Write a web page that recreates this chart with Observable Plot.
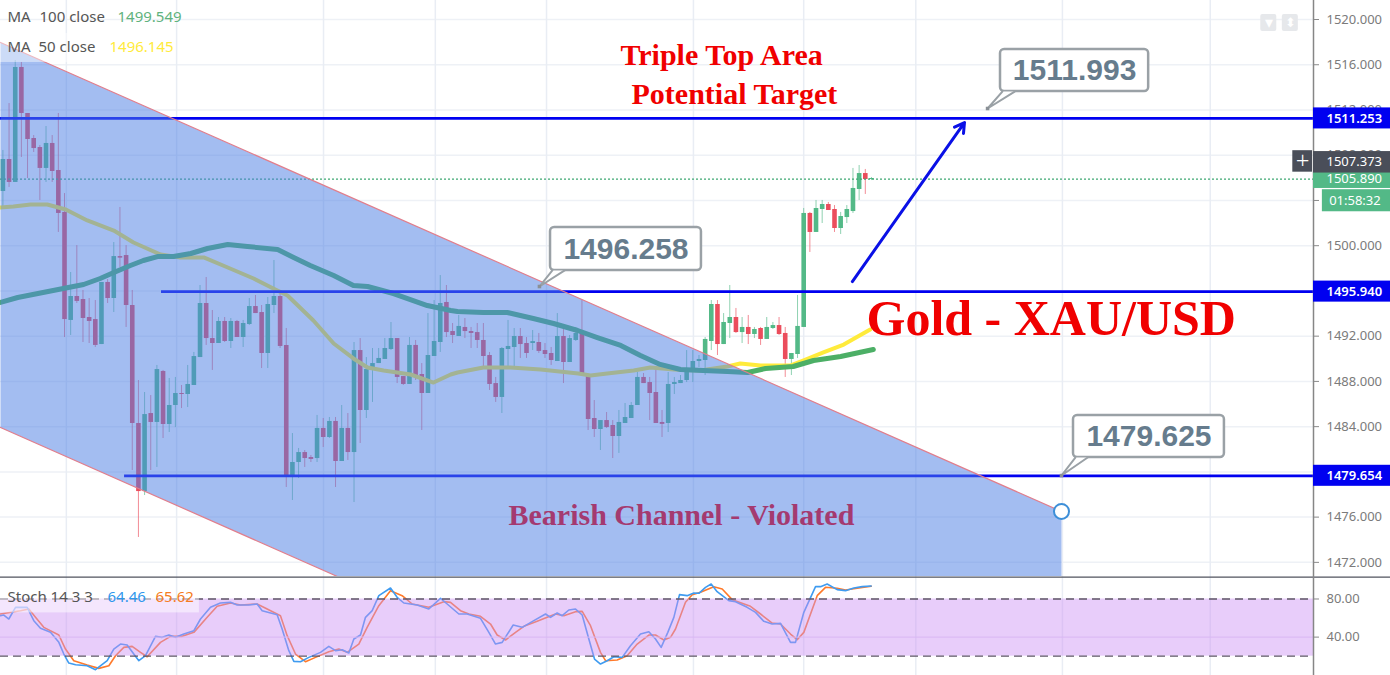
<!DOCTYPE html>
<html>
<head>
<meta charset="utf-8">
<script src="https://cdn.jsdelivr.net/npm/d3@7"></script>
<script src="https://cdn.jsdelivr.net/npm/@observablehq/plot@0.6"></script>
<style>
html,body{margin:0;padding:0;background:#fff;overflow:hidden}
svg{display:block}
</style>
</head>
<body>
<div id="chart"></div>
<script>
// ---------- candles (bar index = array position) ----------
const openPrice=[1504.79,1507.62,1505.59,1515.76,1511.69,1509.48,1508.68,1506.83,1509.04,1506.65,1502.94,1493.39,1495.51,1495.24,1493.65,1493.47,1491.26,1496.75,1495.33,1499.04,
1499.13,1494.71,1484.28,1478.26,1485.16,1484.37,1488.88,1484.19,1485.87,1486.93,1486.84,1487.64,1490.11,1494.89,1491.79,1491.35,1493.30,1491.53,1493.30,1491.88,
1493.03,1494.62,1494.09,1490.47,1494.71,1495.51,1491.18,1479.50,1480.83,1481.71,1481.27,1481.18,1483.84,1483.04,1484.46,1480.92,1483.84,1481.71,1490.73,1485.43,
1488.97,1489.58,1489.94,1490.82,1491.79,1488.43,1487.73,1491.18,1488.61,1486.93,1490.20,1491.44,1494.98,1492.41,1491.97,1492.77,1492.41,1492.32,1491.62,1490.29,
1487.81,1486.58,1490.82,1491.00,1491.97,1491.35,1491.35,1491.44,1490.73,1490.47,1489.76,1491.97,1489.67,1491.62,1492.24,1488.61,1484.72,1483.75,1484.54,1484.10,
1483.13,1484.28,1484.72,1485.87,1488.35,1487.90,1487.02,1484.37,1484.28,1487.73,1487.81,1488.08,1489.14,1489.76,1489.85,1491.53,1494.80,1491.26,1493.12,1493.65,
1492.32,1492.77,1492.15,1492.68,1491.71,1492.68,1492.94,1492.24,1489.94,1490.38,1492.77,1502.85,1501.17,1503.20,1503.64,1503.20,1501.52,1502.49,1503.02,1504.97,1506.38,1505.85];
const closePrice=[1507.62,1505.59,1515.76,1511.69,1509.39,1508.59,1506.83,1509.04,1506.56,1502.85,1493.47,1495.51,1495.07,1493.56,1493.30,1491.18,1496.75,1495.33,1499.04,1498.90,
1494.71,1484.28,1478.26,1485.07,1484.37,1489.05,1484.19,1485.87,1486.93,1486.84,1487.73,1490.20,1494.89,1491.79,1491.35,1493.30,1491.53,1493.30,1491.88,1493.12,
1494.62,1494.00,1490.47,1494.80,1495.51,1491.09,1479.50,1480.83,1481.71,1481.18,1481.10,1483.84,1483.04,1484.46,1480.92,1483.84,1481.71,1490.73,1485.43,1489.05,
1489.58,1490.03,1490.91,1491.79,1488.35,1487.73,1491.18,1488.52,1486.93,1490.29,1491.53,1494.89,1492.32,1492.06,1492.86,1492.41,1492.24,1491.62,1490.20,1487.73,
1486.58,1490.91,1491.09,1491.97,1491.26,1490.47,1491.52,1490.65,1490.38,1489.85,1491.97,1489.67,1491.79,1492.24,1488.61,1484.63,1483.75,1484.54,1483.92,1483.13,
1484.37,1484.81,1485.87,1488.35,1487.81,1486.93,1484.28,1484.20,1487.73,1487.90,1488.08,1489.14,1489.76,1489.94,1491.71,1494.80,1491.26,1493.21,1493.65,1492.32,
1492.77,1492.15,1492.59,1491.71,1492.77,1492.94,1492.15,1489.94,1490.47,1492.86,1502.85,1501.17,1503.29,1503.64,1503.11,1501.52,1502.58,1503.20,1505.06,1506.38,1505.85,1505.94];
const highPrice=[1508.42,1512.57,1516.37,1516.20,1511.69,1509.74,1508.86,1510.54,1509.74,1511.69,1504.61,1497.63,1500.01,1496.04,1495.33,1495.15,1496.75,1497.01,1500.28,1503.38,
1500.01,1496.04,1488.08,1487.02,1486.75,1489.41,1488.97,1488.26,1488.35,1487.64,1489.41,1490.56,1496.48,1497.19,1494.27,1493.65,1493.65,1493.56,1493.39,1493.39,
1495.33,1495.60,1494.71,1495.42,1498.69,1496.04,1492.68,1483.39,1482.07,1481.89,1481.45,1484.99,1484.72,1484.81,1484.81,1485.87,1485.16,1491.44,1491.79,1490.11,
1490.91,1490.91,1491.79,1493.21,1491.79,1488.43,1491.88,1491.62,1489.58,1494.00,1495.15,1497.36,1496.48,1493.12,1493.83,1493.56,1492.77,1493.12,1493.12,1490.56,
1488.35,1491.00,1493.39,1492.68,1492.68,1491.88,1492.50,1492.24,1491.35,1491.00,1494.00,1492.94,1492.06,1492.77,1495.15,1488.61,1486.31,1484.54,1485.25,1484.54,
1485.43,1486.05,1486.14,1488.79,1488.70,1488.35,1489.14,1485.43,1488.79,1488.35,1488.52,1490.73,1490.73,1490.29,1491.88,1495.15,1495.15,1494.00,1496.48,1494.45,
1493.65,1493.83,1492.77,1492.77,1493.65,1493.21,1493.65,1492.77,1490.47,1495.60,1503.29,1502.94,1504.00,1504.00,1503.82,1503.55,1502.94,1503.55,1506.83,1507.09,1506.74,1506.03];
const lowPrice=[1503.38,1505.15,1505.59,1507.80,1505.94,1508.24,1504.00,1505.59,1505.59,1501.17,1491.88,1492.06,1494.89,1491.44,1491.35,1491.00,1491.26,1494.89,1494.09,1498.07,
1492.77,1480.12,1474.20,1477.91,1480.12,1480.39,1482.95,1483.48,1483.92,1485.60,1485.69,1487.64,1490.11,1491.18,1488.97,1491.35,1491.44,1490.91,1491.88,1491.00,
1492.94,1494.00,1489.14,1489.14,1494.00,1490.91,1478.62,1477.47,1479.41,1480.39,1480.83,1480.83,1482.16,1482.95,1478.62,1480.92,1481.01,1477.29,1482.51,1484.72,
1486.14,1489.58,1489.94,1490.73,1487.81,1487.64,1487.73,1488.08,1483.66,1486.93,1490.20,1490.56,1491.88,1491.35,1491.97,1491.79,1490.91,1490.91,1489.23,1487.20,
1486.14,1485.16,1489.14,1489.23,1490.03,1490.03,1490.73,1490.47,1490.03,1489.41,1489.76,1487.81,1489.67,1491.53,1488.52,1483.66,1483.04,1481.89,1483.84,1481.18,
1481.63,1484.28,1484.72,1485.87,1487.81,1484.54,1484.28,1483.04,1483.48,1486.84,1487.81,1487.90,1487.90,1489.23,1488.52,1490.73,1490.29,1491.26,1491.79,1492.24,
1491.35,1491.26,1491.79,1491.18,1491.71,1492.59,1492.06,1488.35,1488.52,1490.03,1492.77,1499.40,1501.17,1501.96,1503.11,1501.17,1500.99,1501.96,1502.85,1504.00,1504.53,1505.76];

// ---------- moving averages ----------
const ma100X=[-0.4,2.4,9.8,13.1,15.8,18,20.7,22.8,25.1,27.7,30.5,33.2,36.5,39.7,44.6,47.2,49.9,53.7,56.9,59.2,63.4,68.9,72.7,73.8,78,81.9,86.1,89.4,93.3,96.5,100.3,103.5,106.7,110,113.7,117.6,120.9,123.8,128.3,131.6,136,141.3];
const ma100Y=[1494.98,1495.42,1496.22,1496.57,1497.10,1497.63,1498.25,1498.69,1499.04,1499.04,1499.31,1499.75,1500.10,1499.93,1499.66,1498.96,1498.25,1497.36,1496.48,1496.39,1495.77,1494.71,1494.27,1494.18,1494.09,1494.09,1493.56,1493.12,1492.50,1491.88,1491.18,1490.29,1489.50,1489.05,1488.97,1488.88,1488.79,1489.14,1489.32,1489.85,1490.20,1490.82];
const ma50X=[-0.4,1.7,4.5,7.2,10.2,13.7,18,21.2,25.6,28.8,32.6,36.5,40.7,43.9,46.2,50.4,53.7,56.9,59.2,61.8,66.2,69.9,72.7,73.8,78,82.4,87.3,93.4,95.4,98.1,102.4,105.1,108.9,113.2,117.6,119.7,123,127.9,130,133.2,136.5,140.8];
const ma50Y=[1503.38,1503.46,1503.64,1503.64,1503.20,1502.23,1501.34,1500.28,1499.22,1498.96,1498.96,1498.07,1497.10,1496.22,1495.60,1493.39,1491.35,1490.03,1489.23,1488.97,1488.61,1487.90,1488.61,1488.79,1489.23,1489.23,1489.05,1488.70,1488.52,1488.70,1488.97,1489.23,1489.05,1488.97,1489.32,1489.58,1489.41,1489.41,1489.85,1490.56,1491.26,1492.59];

// ---------- stochastic ----------
const kX=[-0.4,0.15,0.96,2.05,3.94,5.02,6.1,7.73,9.08,9.89,10.7,11.8,13.68,15.03,16.93,18,19.09,20.17,21.25,22.07,23.15,24.77,25.85,26.94,28.02,29.37,31,32.08,33.7,35.3,36.95,38.03,39.92,41.27,42.09,44.52,45.33,46.42,47.23,48.31,49.66,51.56,52.91,53.99,55.08,56.16,56.97,58.05,58.86,59.95,61.03,62.92,64,65.09,67.25,69.14,71.04,72.12,74.02,75.37,77.53,78.89,79.97,81.05,82.84,84.3,86.19,88.09,88.9,89.98,90.79,91.87,92.96,94.04,95.12,96.04,97.01,98.1,99.18,100.53,101.88,103.51,104.86,105.94,106.86,107.94,108.92,109.84,111.08,112.17,112.98,114.06,114.98,115.95,117.85,118.93,120.82,122.18,123.53,124.88,126.24,127.86,128.67,130.02,131.92,132.73,133.81,135.43,136.79,138.14,139.49,140.95];
const kV=[62.5,63.2,59,71.25,71.25,57.25,49.2,45,34.5,22.25,12.8,11.05,10,5.8,15.25,27.5,32.75,31.7,22.25,15.25,20.5,40.8,39.75,42.2,39.75,43.25,46.75,59,71.25,75.8,76.5,73.7,73.7,74.75,67.75,63.55,48.5,25.75,14.55,14.2,18.75,24,30.3,25.75,26.8,23.3,38,42.2,60.75,67.75,83.5,91.55,81.75,75.8,73.7,69.5,80.7,74.75,64.25,64.25,59.7,45,32.75,34.5,52.7,50.25,57.25,64.25,60.75,65.3,62.5,68.45,69.5,63.2,38,17,11.75,15.25,19.45,18.75,31,43.25,45.7,38,29.25,45,60.75,84.55,83.5,86.3,85.95,92.25,95.75,87.7,78.25,77.2,71.25,66,56.55,53.75,54.45,34.5,34.5,66,92.95,92.95,95.75,89.8,88.75,91.55,92.95,93.65];
const dX=[-0.4,2.86,4.21,5.29,6.64,9.08,10.16,11.51,13.68,15.57,17.2,18.28,19.63,20.98,22.34,23.42,25.58,27.21,29.1,31,33.16,34.78,36.95,38.57,41.27,42.9,45.06,46.15,47.5,49.12,50.75,52.91,54.53,55.89,57.78,59.13,61.03,62.92,64.81,66.44,69.14,71.58,72.66,74.29,75.64,77.53,79.16,80.24,81.59,83.22,84.57,86.73,88.36,89.71,91.06,92.96,94.04,95.39,97.01,97.83,99.72,101.34,102.97,104.86,105.94,107.3,108.38,109.19,110.81,111.9,113.25,115.41,116.77,118.39,121.36,122.99,124.88,126.24,127.86,128.94,130.02,132.19,133.54,135.43,136.79,138.68,140.95];
const dV=[64.25,67.75,69.5,60.75,50.25,42.2,27.5,15.25,10.7,7.2,10,20.5,29.25,30.3,24,19.45,34.5,40.8,40.8,45,60.75,72.3,75.8,73.7,74.75,69.5,62.5,41.5,22.25,14.2,18.75,24.7,27.5,24,32.75,50.25,73,88.75,83.5,74.75,71.25,77.2,76.5,67.75,64.25,61.8,53.75,42.2,36.95,45,51.3,56.55,60.75,64.25,62.5,66.7,67.05,52,24,15.25,15.95,20.5,32.75,42.2,42.2,36.95,39.75,48.5,76.5,84.55,87,92.95,90.5,79.3,72.3,64.25,54.8,53.75,43.25,37.3,45,83.5,92.25,91.2,89.45,91.2,93.3];

// ---------- scales, grid, levels, drawings ----------
const xMin=-0.39, xAxis=212.76, xEnd=225.26;
const priceMin=1470.75, priceMax=1521.68;
const priceTicks=[1520,1516,1512,1508,1504,1500,1496,1492,1488,1484,1480,1476,1472];
const coveredTicks=[1504,1496,1480];
const timeGrid=[10.3,28.2,52.05,70.2,88.25,112.1,130,148.2,172,196];
const lastPrice=1505.89;
const levelValues=[1511.253,1495.94,1479.654];
const levelStarts=[xMin,25.75,19.75];
const channelX=[-0.39,171.85,171.85,54.3,-0.39];
const channelY=[1517.97,1476.5,1470.75,1470.75,1483.93];
const upperEdgeX=[-0.39,171.85], upperEdgeY=[1517.97,1476.5];
const lowerEdgeX=[-0.39,54.3], lowerEdgeY=[1483.93,1470.75];
const calloutText=["1511.993","1496.258","1479.625"];
const calloutLeft=[161.95,88.9,173.8], calloutRight=[186,113.4,198.3];
const calloutTop=[1517.35,1501.61,1484.99], calloutBottom=[1513.63,1497.81,1481.27];
const calloutTipX=[159.85,87.1,171.85], calloutTipY=[1512.13,1496.39,1479.68];

const font="'Noto Sans'", serif="'Liberation Serif'", sans="'Liberation Sans'";
const upColor="#53b987", downColor="#eb4d5c", levelBlue="#0000f0";

const bars=openPrice.map((o,i)=>({i,o,c:closePrice[i],h:highPrice[i],l:lowPrice[i]}));
const upBars=bars.filter(b=>b.c>=b.o), downBars=bars.filter(b=>b.c<b.o);
const zip=(xs,ys)=>xs.map((x,i)=>({x,y:ys[i]}));
const levels=levelValues.map((v,i)=>({v,s:levelStarts[i]}));
const callouts=calloutText.map((t,i)=>({t,l:calloutLeft[i],r:calloutRight[i],tp:calloutTop[i],b:calloutBottom[i],tx:calloutTipX[i],ty:calloutTipY[i]}));
const tails=callouts.flatMap((c,k)=>[
  {k,x:c.l+0.3,y:c.b},{k,x:c.tx,y:c.ty},{k,x:c.l+2.3,y:c.b}
]);
const label=(txt,size,opts)=>Plot.text([txt],{frameAnchor:"top-left",lineAnchor:"middle",textAnchor:"start",fontSize:size,fontFamily:font,...opts});

const priceChart=Plot.plot({
  width:1390,height:576,marginTop:0,marginBottom:0,marginLeft:0,marginRight:77,
  style:{background:"#fff",overflow:"visible"},
  x:{domain:[xMin,xAxis],axis:null},
  y:{domain:[priceMin,priceMax],axis:null},
  marks:[
    Plot.ruleY(priceTicks,{stroke:"#eef1f6",strokeWidth:1.5,x1:xMin,x2:xAxis}),
    Plot.ruleX(timeGrid,{stroke:"#e9edf4",strokeWidth:1.5}),
    Plot.ruleX(upBars,{x:"i",y1:"l",y2:"h",stroke:upColor,strokeWidth:1,strokeOpacity:0.65}),
    Plot.ruleX(downBars,{x:"i",y1:"l",y2:"h",stroke:downColor,strokeWidth:1,strokeOpacity:0.65}),
    Plot.ruleX(upBars,{x:"i",y1:"o",y2:"c",stroke:upColor,strokeWidth:4.6}),
    Plot.ruleX(downBars,{x:"i",y1:"o",y2:"c",stroke:downColor,strokeWidth:4.6}),
    Plot.line(zip(ma50X,ma50Y),{x:"x",y:"y",stroke:"#ffeb3b",strokeWidth:4,curve:"linear"}),
    Plot.line(zip(ma100X,ma100Y),{x:"x",y:"y",stroke:"#4caf66",strokeWidth:5,curve:"linear"}),
    Plot.ruleY([lastPrice],{x1:xMin,x2:xAxis,stroke:"#3fa873",strokeWidth:1.2,strokeDasharray:"2,2"}),
    Plot.ruleY(levels,{y:"v",x1:"s",x2:xAxis,stroke:levelBlue,strokeWidth:2.8}),
    // channel body laid over the candles
    Plot.line(zip(channelX,channelY),{x:"x",y:"y",fill:"#4f80e5",fillOpacity:0.52,stroke:"none",clip:true}),
    Plot.line(zip(upperEdgeX,upperEdgeY),{x:"x",y:"y",stroke:"#e17e8c",strokeWidth:1.2,clip:true}),
    Plot.line(zip(lowerEdgeX,lowerEdgeY),{x:"x",y:"y",stroke:"#e17e8c",strokeWidth:1.2,clip:true}),
    Plot.dot([0],{x:()=>171.85,y:()=>1476.5,r:7.5,fill:"#fff",stroke:"#3d8fd8",strokeWidth:2}),
    // legend veil
    Plot.rect([0],{x1:()=>xMin,x2:()=>28,y1:()=>1516.2,y2:()=>1518.76,fill:"#fff",fillOpacity:0.45}),
    // arrow
    Plot.arrow([0],{x1:()=>137.9,y1:()=>1496.83,x2:()=>156.1,y2:()=>1510.89,stroke:"#0a10e6",strokeWidth:3,headLength:5.5,bend:false}),
    // callouts
    Plot.rect(callouts,{x1:"l",x2:"r",y1:"b",y2:"tp",fill:"#fff",stroke:"#9aa1a6",strokeWidth:2.5,rx:4}),
    Plot.line(tails,{x:"x",y:"y",z:"k",fill:"#fff",stroke:"none"}),
    Plot.line(tails,{x:"x",y:"y",z:"k",stroke:"#9aa1a6",strokeWidth:2}),
    Plot.dot(callouts,{x:"tx",y:"ty",r:2,fill:"#8a9096",symbol:"square"}),
    Plot.text(callouts,{x:d=>(d.l+d.r)/2,y:d=>(d.tp+d.b)/2,text:"t",fill:"#667c8d",fontSize:30,fontWeight:"bold",fontFamily:sans}),
    // drawn text
    label("Triple Top Area",30,{dx:620,dy:55,fill:"#f00000",fontWeight:"bold",fontFamily:serif}),
    label("Potential Target",30,{dx:631,dy:94,fill:"#f00000",fontWeight:"bold",fontFamily:serif}),
    label("Gold - XAU/USD",50,{dx:866,dy:318,fill:"#f00000",fontWeight:"bold",fontFamily:serif}),
    label("Bearish Channel - Violated",30,{dx:508,dy:515,fill:"#a43a70",fontWeight:"bold",fontFamily:serif}),
    // legends
    label("MA",15,{dx:7,dy:17,fill:"#555"}),
    label("100 close",15,{dx:39,dy:17,fill:"#555"}),
    label("1499.549",15,{dx:117,dy:17,fill:"#5fb27d"}),
    label("MA",15,{dx:7,dy:47,fill:"#555"}),
    label("50 close",15,{dx:38,dy:47,fill:"#555"}),
    label("1496.145",15,{dx:109,dy:47,fill:"#ffeb3b"}),
    // window buttons
    Plot.rect([204.2,207.7],{x1:d=>d,x2:d=>d+2.6,y1:()=>1518.94,y2:()=>1520.44,fill:"#e6e8eb",rx:2}),
    label("▾",16,{dx:1268.5,dy:22,fill:"#fff",textAnchor:"middle"}),
    label("⬍",13,{dx:1289.5,dy:22,fill:"#fff",textAnchor:"middle"}),
    // price axis
    Plot.ruleX([xAxis],{stroke:"#868686",strokeWidth:1.5}),
    Plot.axisY({anchor:"right",ticks:priceTicks,tickFormat:d=>coveredTicks.includes(d)?"":d.toFixed(3),tickSize:5,tickPadding:8,label:null,fontSize:13,fontFamily:font,color:"#7b7b7b",stroke:"#8a8a8a"}),
    // price labels
    Plot.rect(levels,{x1:()=>xAxis,x2:()=>xEnd,y1:d=>d.v-0.93,y2:d=>d.v+0.93,fill:levelBlue}),
    Plot.text(levels,{x:()=>214.87,y:"v",text:d=>d.v.toFixed(3),textAnchor:"start",fill:"#fff",fontSize:13,fontWeight:"600",fontFamily:font}),
    Plot.rect([lastPrice],{x1:()=>xAxis,x2:()=>xEnd,y1:()=>1505.06,y2:()=>1506.6,fill:upColor}),
    Plot.text([lastPrice],{x:()=>214.87,y:()=>1505.89,text:d=>d.toFixed(3),textAnchor:"start",fill:"#fff",fontSize:13,fontFamily:font}),
    Plot.rect([0],{x1:()=>214.2,x2:()=>xEnd,y1:()=>1503.0,y2:()=>1504.95,fill:upColor}),
    Plot.text(["01:58:32"],{x:()=>215.3,y:()=>1504.0,textAnchor:"start",fill:"#fff",fontSize:13,fontFamily:font}),
    Plot.rect([0],{x1:()=>209.4,x2:()=>212.6,y1:()=>1506.5,y2:()=>1508.4,fill:"#4a4e59"}),
    Plot.rect([1507.373],{x1:()=>xAxis,x2:()=>xEnd,y1:d=>d-0.95,y2:d=>d+0.95,fill:"#4a4e59"}),
    Plot.text([1507.373],{x:()=>214.87,y:d=>d,text:d=>d.toFixed(3),textAnchor:"start",fill:"#fff",fontSize:13,fontFamily:font}),
    Plot.text(["+"],{x:()=>211,y:()=>1507.45,fill:"#fff",fontSize:24,fontFamily:font,fontWeight:"300"})
  ]
});

// ---------- stochastic pane ----------
const stochTicks=[80,40];
const bandLevels=[20,80];
const stochChart=Plot.plot({
  width:1390,height:99,marginTop:0,marginBottom:0,marginLeft:0,marginRight:77,
  style:{background:"#fff",overflow:"visible"},
  x:{domain:[xMin,xAxis],axis:null},
  y:{domain:[-0.27,103.6],axis:null},
  marks:[
    Plot.ruleX(timeGrid,{stroke:"#e9edf4",strokeWidth:1.5}),
    Plot.line(zip(dX,dV),{x:"x",y:"y",stroke:"#ff7a2b",strokeWidth:1.6,curve:"linear"}),
    Plot.line(zip(kX,kV),{x:"x",y:"y",stroke:"#3f9bf0",strokeWidth:1.6,curve:"linear"}),
    Plot.rect([0],{x1:()=>xMin,x2:()=>xAxis,y1:()=>bandLevels[0],y2:()=>bandLevels[1],fill:"#cc90f5",fillOpacity:0.45}),
    Plot.ruleY([40],{x1:xMin,x2:xAxis,stroke:"#d9b6f3",strokeWidth:1}),
    Plot.ruleY(bandLevels,{x1:xMin,x2:xAxis,stroke:"#5d5566",strokeWidth:1.3,strokeDasharray:"8,5"}),
    Plot.rect([0],{x1:()=>xMin,x2:()=>31.9,y1:()=>65.4,y2:()=>80.5,fill:"#fff",fillOpacity:0.5}),
    Plot.ruleY([103],{x1:xMin,x2:xEnd,stroke:"#50535e",strokeWidth:1.2}),
    label("Stoch 14 3 3",15,{dx:7,dy:21,fill:"#555"}),
    label("64.46",15,{dx:107,dy:21,fill:"#2e97ec"}),
    label("65.62",15,{dx:155,dy:21,fill:"#f57c22"}),
    Plot.ruleX([xAxis],{stroke:"#868686",strokeWidth:1.5}),
    Plot.axisY({anchor:"right",ticks:stochTicks,tickFormat:d=>d.toFixed(2),tickSize:5,tickPadding:8,label:null,fontSize:13,fontFamily:font,color:"#7b7b7b",stroke:"#8a8a8a"})
  ]
});
document.getElementById("chart").append(priceChart,stochChart);
</script>
</body>
</html>
